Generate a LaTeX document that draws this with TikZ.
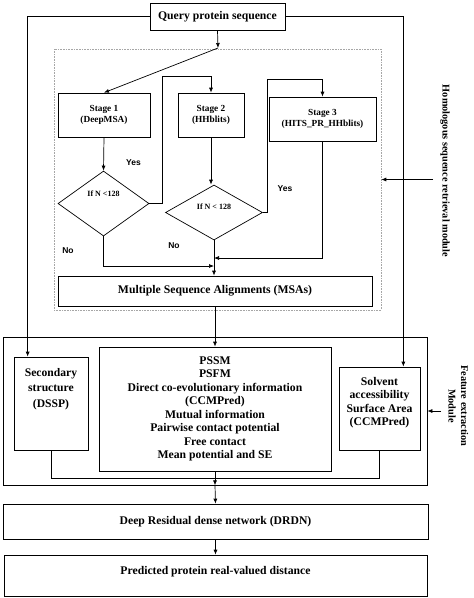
\documentclass[tikz,border=0pt]{standalone}
\usepackage{fontspec}
\setmainfont{Liberation Serif}
\newfontfamily\yesnofont{Liberation Sans}
\usetikzlibrary{shapes.geometric,arrows.meta}

\begin{document}
\begin{tikzpicture}[x=1pt, y=-1pt, line width=0.7pt, >={Latex[length=5pt,width=4pt]},
    box/.style={draw, inner sep=0pt, align=center, font=\bfseries\fontsize{11.7}{13.5}\selectfont},
    stagebox/.style={draw, inner sep=0pt, align=center, font=\bfseries\fontsize{9.3}{11.5}\selectfont},
    check/.style={draw, diamond, inner sep=0pt, text height=6pt, font=\bfseries\fontsize{8}{9}\selectfont},
    answer/.style={font=\yesnofont\bfseries\fontsize{8.5}{10}\selectfont},
    sidelabel/.style={rotate=-90, align=center, font=\bfseries\fontsize{10.3}{12.5}\selectfont}]
    \useasboundingbox (0, 0) rectangle (474, 598);

    \node[box, minimum width=135pt, minimum height=27pt] (query) at (217.5, 16.5) {Query protein sequence};
    % Homologous sequence retrieval module
    \node[draw=black!35, densely dotted, line width=0.6pt, minimum width=327pt, minimum height=261pt] (retrieval) at (217.5, 179.5) {};
    \coordinate (split) at (218, 48);
    \node[stagebox, minimum width=92pt, minimum height=44pt] (stage1) at (104, 115) {Stage 1\\(DeepMSA)};
    \node[stagebox, minimum width=66pt, minimum height=44pt] (stage2) at (211, 115) {Stage 2\\(HHblits)};
    \node[stagebox, minimum width=107pt, minimum height=44pt] (stage3) at (322.5, 119) {Stage 3\\(HITS\_PR\_HHblits)};
    \node[check, minimum width=91pt, minimum height=65pt, text depth=20pt] (check1) at (103.5, 203.5) {If N <128};
    \node[check, minimum width=97pt, minimum height=55pt, text depth=13pt] (check2) at (214, 212.5) {If N < 128};
    \node[answer] (yes1) at (133.5, 163) {Yes};
    \node[answer] (yes2) at (285, 189) {Yes};
    \node[answer] (no1) at (68, 251) {No};
    \node[answer] (no2) at (174, 246) {No};
    \node[box, minimum width=314pt, minimum height=30pt] (msa) at (215, 291) {Multiple Sequence Alignments (MSAs)};
    \coordinate (join3) at (214, 258);
    \coordinate (join1) at (214, 266);
    \node[sidelabel] (homlabel) at (445, 171) {Homologous sequence retrieval module};
    \coordinate (homtail) at (433, 179.5);

    % Feature extraction module
    \node[draw, minimum width=424pt, minimum height=148pt] (features) at (215, 411) {};
    \node[box, minimum width=74pt, minimum height=93pt, font=\bfseries\fontsize{11.6}{15.5}\selectfont] (secondary) at (51, 403.5)
        {\parbox[c][71pt][t]{72pt}{\centering Secondary\\structure\\(DSSP)}};
    \node[box, minimum width=232pt, minimum height=124pt] (props) at (215, 409)
        {PSSM\\PSFM\\Direct co-evolutionary information\\(CCMPred)\\Mutual information\\Pairwise contact potential\\Free contact\\Mean potential and SE};
    \node[box, minimum width=81pt, minimum height=83pt] (solvent) at (379.5, 408.5)
        {\parbox[c][63pt][t]{79pt}{\centering Solvent\\accessibility\\Surface Area\\(CCMPred)}};
    \coordinate (merge) at (215, 478);
    \node[sidelabel] (featlabel) at (458.5, 406) {Feature extraction\\Module};
    \coordinate (feattail) at (441, 411);

    \node[box, minimum width=425pt, minimum height=35pt] (drdn) at (215.5, 521.5) {Deep Residual dense network (DRDN)};
    \node[box, minimum width=423pt, minimum height=41pt, text height=8pt, text depth=11pt] (predicted) at (215.5, 575.5) {Predicted protein real-valued distance};

    % Connectors in the retrieval module
    \draw[->] (query.south) -- (split);
    \draw[->] (split) -- (stage1.north);
    \draw[->] (stage1.south) -- (check1.north);
    \draw[->] (check1.east) -- ++(13, 0) -- ++(0, -127.5) -| (stage2.north);
    \draw[->] (stage2.south) -- (stage2.south |- check2.north);
    \draw[->] (check2.east) -- ++(4, 0) -- ++(0, -133.5) -| (stage3.north);
    \draw[->] (stage3.south) |- (join3);
    \draw[->] (check1.south) |- (join1);
    \draw[->] (check2.south) -- (check2.south |- msa.north);
    \draw[->] (homtail) -- (retrieval.east);

    % Connectors in the feature module
    \draw[->] (query.west) -| ([xshift=14pt]secondary.north west);
    \draw[->] (query.east) -| ([xshift=-17pt]solvent.north east);
    \draw[->] (msa.south) -- (props.north);
    \draw (secondary.south) |- (merge);
    \draw (solvent.south) |- (merge);
    \draw[->] (props.south) -- (features.south);
    \draw[->] (feattail) -- (features.east);
    \draw[->] (features.south) -- (drdn.north);
    \draw[->] (drdn.south) -- (predicted.north);
\end{tikzpicture}
\end{document}
